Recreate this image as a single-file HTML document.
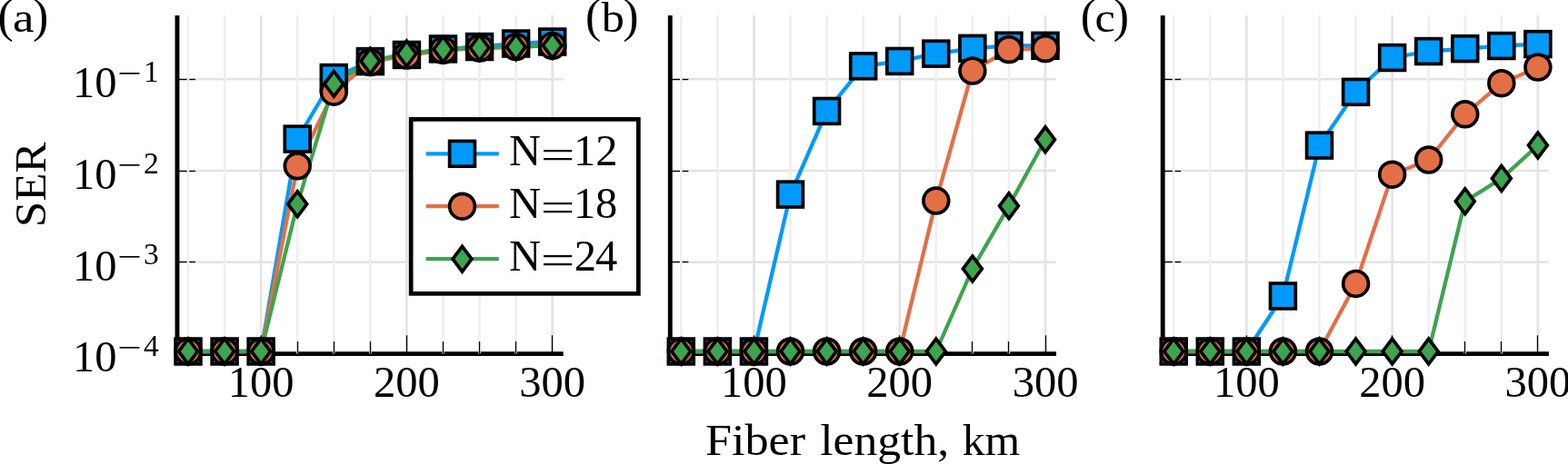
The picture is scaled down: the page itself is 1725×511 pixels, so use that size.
<!DOCTYPE html>
<html><head><meta charset="utf-8"><style>html,body{margin:0;padding:0;background:#fff;overflow:hidden}svg{display:block}</style></head>
<body>
<svg width="1725" height="511" viewBox="0 0 1725 511">
<rect width="1725" height="511" fill="#fff"/>
<line x1="287.14" y1="17.0" x2="287.14" y2="389.40" stroke="#e3e3e3" stroke-width="2.6"/>
<line x1="447.42" y1="17.0" x2="447.42" y2="389.40" stroke="#e3e3e3" stroke-width="2.6"/>
<line x1="607.70" y1="17.0" x2="607.70" y2="389.40" stroke="#e3e3e3" stroke-width="2.6"/>
<line x1="194.98" y1="87.30" x2="619.72" y2="87.30" stroke="#e3e3e3" stroke-width="2.6"/>
<line x1="194.98" y1="188.00" x2="619.72" y2="188.00" stroke="#e3e3e3" stroke-width="2.6"/>
<line x1="194.98" y1="288.70" x2="619.72" y2="288.70" stroke="#e3e3e3" stroke-width="2.6"/>
<line x1="194.98" y1="87.50" x2="214.98" y2="87.50" stroke="#000" stroke-width="1.3"/>
<line x1="194.98" y1="188.50" x2="214.98" y2="188.50" stroke="#000" stroke-width="1.3"/>
<line x1="194.98" y1="288.50" x2="214.98" y2="288.50" stroke="#000" stroke-width="1.3"/>
<line x1="194.98" y1="389.50" x2="214.98" y2="389.50" stroke="#000" stroke-width="1.3"/>
<line x1="194.98" y1="17.0" x2="194.98" y2="391.85" stroke="#000" stroke-width="4.9"/>
<line x1="192.53" y1="389.60" x2="619.72" y2="389.60" stroke="#000" stroke-width="4.9"/>
<line x1="207.00" y1="17.0" x2="207.00" y2="389.40" stroke="#efefef" stroke-width="2.6"/>
<line x1="247.07" y1="17.0" x2="247.07" y2="389.40" stroke="#efefef" stroke-width="2.6"/>
<line x1="327.21" y1="17.0" x2="327.21" y2="389.40" stroke="#efefef" stroke-width="2.6"/>
<line x1="367.28" y1="17.0" x2="367.28" y2="389.40" stroke="#efefef" stroke-width="2.6"/>
<line x1="407.35" y1="17.0" x2="407.35" y2="389.40" stroke="#efefef" stroke-width="2.6"/>
<line x1="487.49" y1="17.0" x2="487.49" y2="389.40" stroke="#efefef" stroke-width="2.6"/>
<line x1="527.56" y1="17.0" x2="527.56" y2="389.40" stroke="#efefef" stroke-width="2.6"/>
<line x1="567.63" y1="17.0" x2="567.63" y2="389.40" stroke="#efefef" stroke-width="2.6"/>
<line x1="207.50" y1="389.40" x2="207.50" y2="376.1" stroke="#000" stroke-width="1.3"/>
<line x1="247.50" y1="389.40" x2="247.50" y2="376.1" stroke="#000" stroke-width="1.3"/>
<line x1="287.50" y1="389.40" x2="287.50" y2="369.3" stroke="#000" stroke-width="1.3"/>
<line x1="327.50" y1="389.40" x2="327.50" y2="376.1" stroke="#000" stroke-width="1.3"/>
<line x1="367.50" y1="389.40" x2="367.50" y2="376.1" stroke="#000" stroke-width="1.3"/>
<line x1="407.50" y1="389.40" x2="407.50" y2="376.1" stroke="#000" stroke-width="1.3"/>
<line x1="447.50" y1="389.40" x2="447.50" y2="369.3" stroke="#000" stroke-width="1.3"/>
<line x1="487.50" y1="389.40" x2="487.50" y2="376.1" stroke="#000" stroke-width="1.3"/>
<line x1="527.50" y1="389.40" x2="527.50" y2="376.1" stroke="#000" stroke-width="1.3"/>
<line x1="567.50" y1="389.40" x2="567.50" y2="376.1" stroke="#000" stroke-width="1.3"/>
<line x1="607.50" y1="389.40" x2="607.50" y2="369.3" stroke="#000" stroke-width="1.3"/>
<polyline points="207.00,387.00 247.07,387.00 287.14,387.00 327.21,153.10 367.28,85.50 407.35,67.60 447.42,60.40 487.49,53.90 527.56,51.50 567.63,48.00 607.70,46.00" fill="none" stroke="#009AFA" stroke-width="4.3" stroke-linejoin="round"/>
<polyline points="207.00,387.00 247.07,387.00 287.14,387.00 327.21,182.80 367.28,101.20 407.35,68.50 447.42,61.00 487.49,55.30 527.56,53.00 567.63,51.50 607.70,50.40" fill="none" stroke="#E36F47" stroke-width="4.3" stroke-linejoin="round"/>
<polyline points="207.00,387.00 247.07,387.00 287.14,387.00 327.21,224.80 367.28,92.30 407.35,67.20 447.42,59.10 487.49,54.40 527.56,52.60 567.63,51.70 607.70,50.00" fill="none" stroke="#3EA44E" stroke-width="4.3" stroke-linejoin="round"/>
<rect x="193.10" y="373.10" width="27.80" height="27.80" fill="#009AFA" stroke="#000" stroke-width="3.7"/>
<rect x="233.17" y="373.10" width="27.80" height="27.80" fill="#009AFA" stroke="#000" stroke-width="3.7"/>
<rect x="273.24" y="373.10" width="27.80" height="27.80" fill="#009AFA" stroke="#000" stroke-width="3.7"/>
<rect x="313.31" y="139.20" width="27.80" height="27.80" fill="#009AFA" stroke="#000" stroke-width="3.7"/>
<rect x="353.38" y="71.60" width="27.80" height="27.80" fill="#009AFA" stroke="#000" stroke-width="3.7"/>
<rect x="393.45" y="53.70" width="27.80" height="27.80" fill="#009AFA" stroke="#000" stroke-width="3.7"/>
<rect x="433.52" y="46.50" width="27.80" height="27.80" fill="#009AFA" stroke="#000" stroke-width="3.7"/>
<rect x="473.59" y="40.00" width="27.80" height="27.80" fill="#009AFA" stroke="#000" stroke-width="3.7"/>
<rect x="513.66" y="37.60" width="27.80" height="27.80" fill="#009AFA" stroke="#000" stroke-width="3.7"/>
<rect x="553.73" y="34.10" width="27.80" height="27.80" fill="#009AFA" stroke="#000" stroke-width="3.7"/>
<rect x="593.80" y="32.10" width="27.80" height="27.80" fill="#009AFA" stroke="#000" stroke-width="3.7"/>
<circle cx="207.00" cy="387.00" r="13.90" fill="#E36F47" stroke="#000" stroke-width="3.7"/>
<circle cx="247.07" cy="387.00" r="13.90" fill="#E36F47" stroke="#000" stroke-width="3.7"/>
<circle cx="287.14" cy="387.00" r="13.90" fill="#E36F47" stroke="#000" stroke-width="3.7"/>
<circle cx="327.21" cy="182.80" r="13.90" fill="#E36F47" stroke="#000" stroke-width="3.7"/>
<circle cx="367.28" cy="101.20" r="13.90" fill="#E36F47" stroke="#000" stroke-width="3.7"/>
<circle cx="407.35" cy="68.50" r="13.90" fill="#E36F47" stroke="#000" stroke-width="3.7"/>
<circle cx="447.42" cy="61.00" r="13.90" fill="#E36F47" stroke="#000" stroke-width="3.7"/>
<circle cx="487.49" cy="55.30" r="13.90" fill="#E36F47" stroke="#000" stroke-width="3.7"/>
<circle cx="527.56" cy="53.00" r="13.90" fill="#E36F47" stroke="#000" stroke-width="3.7"/>
<circle cx="567.63" cy="51.50" r="13.90" fill="#E36F47" stroke="#000" stroke-width="3.7"/>
<circle cx="607.70" cy="50.40" r="13.90" fill="#E36F47" stroke="#000" stroke-width="3.7"/>
<path d="M207.00 373.10L217.40 387.00L207.00 400.90L196.60 387.00Z" fill="#3EA44E" stroke="#000" stroke-width="3.7" stroke-linejoin="miter" stroke-miterlimit="10"/>
<path d="M247.07 373.10L257.47 387.00L247.07 400.90L236.67 387.00Z" fill="#3EA44E" stroke="#000" stroke-width="3.7" stroke-linejoin="miter" stroke-miterlimit="10"/>
<path d="M287.14 373.10L297.54 387.00L287.14 400.90L276.74 387.00Z" fill="#3EA44E" stroke="#000" stroke-width="3.7" stroke-linejoin="miter" stroke-miterlimit="10"/>
<path d="M327.21 210.90L337.61 224.80L327.21 238.70L316.81 224.80Z" fill="#3EA44E" stroke="#000" stroke-width="3.7" stroke-linejoin="miter" stroke-miterlimit="10"/>
<path d="M367.28 78.40L377.68 92.30L367.28 106.20L356.88 92.30Z" fill="#3EA44E" stroke="#000" stroke-width="3.7" stroke-linejoin="miter" stroke-miterlimit="10"/>
<path d="M407.35 53.30L417.75 67.20L407.35 81.10L396.95 67.20Z" fill="#3EA44E" stroke="#000" stroke-width="3.7" stroke-linejoin="miter" stroke-miterlimit="10"/>
<path d="M447.42 45.20L457.82 59.10L447.42 73.00L437.02 59.10Z" fill="#3EA44E" stroke="#000" stroke-width="3.7" stroke-linejoin="miter" stroke-miterlimit="10"/>
<path d="M487.49 40.50L497.89 54.40L487.49 68.30L477.09 54.40Z" fill="#3EA44E" stroke="#000" stroke-width="3.7" stroke-linejoin="miter" stroke-miterlimit="10"/>
<path d="M527.56 38.70L537.96 52.60L527.56 66.50L517.16 52.60Z" fill="#3EA44E" stroke="#000" stroke-width="3.7" stroke-linejoin="miter" stroke-miterlimit="10"/>
<path d="M567.63 37.80L578.03 51.70L567.63 65.60L557.23 51.70Z" fill="#3EA44E" stroke="#000" stroke-width="3.7" stroke-linejoin="miter" stroke-miterlimit="10"/>
<path d="M607.70 36.10L618.10 50.00L607.70 63.90L597.30 50.00Z" fill="#3EA44E" stroke="#000" stroke-width="3.7" stroke-linejoin="miter" stroke-miterlimit="10"/>
<text x="287.14" y="437.4" font-size="48.5" text-anchor="middle" font-family="Liberation Serif, serif">100</text>
<text x="447.42" y="437.4" font-size="48.5" text-anchor="middle" font-family="Liberation Serif, serif">200</text>
<text x="607.70" y="437.4" font-size="48.5" text-anchor="middle" font-family="Liberation Serif, serif">300</text>
<line x1="829.44" y1="17.0" x2="829.44" y2="389.40" stroke="#e3e3e3" stroke-width="2.6"/>
<line x1="989.72" y1="17.0" x2="989.72" y2="389.40" stroke="#e3e3e3" stroke-width="2.6"/>
<line x1="1150.00" y1="17.0" x2="1150.00" y2="389.40" stroke="#e3e3e3" stroke-width="2.6"/>
<line x1="737.28" y1="87.30" x2="1162.02" y2="87.30" stroke="#e3e3e3" stroke-width="2.6"/>
<line x1="737.28" y1="188.00" x2="1162.02" y2="188.00" stroke="#e3e3e3" stroke-width="2.6"/>
<line x1="737.28" y1="288.70" x2="1162.02" y2="288.70" stroke="#e3e3e3" stroke-width="2.6"/>
<line x1="737.28" y1="87.50" x2="757.28" y2="87.50" stroke="#000" stroke-width="1.3"/>
<line x1="737.28" y1="188.50" x2="757.28" y2="188.50" stroke="#000" stroke-width="1.3"/>
<line x1="737.28" y1="288.50" x2="757.28" y2="288.50" stroke="#000" stroke-width="1.3"/>
<line x1="737.28" y1="389.50" x2="757.28" y2="389.50" stroke="#000" stroke-width="1.3"/>
<line x1="737.28" y1="17.0" x2="737.28" y2="391.85" stroke="#000" stroke-width="4.9"/>
<line x1="734.83" y1="389.60" x2="1162.02" y2="389.60" stroke="#000" stroke-width="4.9"/>
<line x1="749.30" y1="17.0" x2="749.30" y2="389.40" stroke="#efefef" stroke-width="2.6"/>
<line x1="789.37" y1="17.0" x2="789.37" y2="389.40" stroke="#efefef" stroke-width="2.6"/>
<line x1="869.51" y1="17.0" x2="869.51" y2="389.40" stroke="#efefef" stroke-width="2.6"/>
<line x1="909.58" y1="17.0" x2="909.58" y2="389.40" stroke="#efefef" stroke-width="2.6"/>
<line x1="949.65" y1="17.0" x2="949.65" y2="389.40" stroke="#efefef" stroke-width="2.6"/>
<line x1="1029.79" y1="17.0" x2="1029.79" y2="389.40" stroke="#efefef" stroke-width="2.6"/>
<line x1="1069.86" y1="17.0" x2="1069.86" y2="389.40" stroke="#efefef" stroke-width="2.6"/>
<line x1="1109.93" y1="17.0" x2="1109.93" y2="389.40" stroke="#efefef" stroke-width="2.6"/>
<line x1="749.50" y1="389.40" x2="749.50" y2="376.1" stroke="#000" stroke-width="1.3"/>
<line x1="789.50" y1="389.40" x2="789.50" y2="376.1" stroke="#000" stroke-width="1.3"/>
<line x1="829.50" y1="389.40" x2="829.50" y2="369.3" stroke="#000" stroke-width="1.3"/>
<line x1="869.50" y1="389.40" x2="869.50" y2="376.1" stroke="#000" stroke-width="1.3"/>
<line x1="909.50" y1="389.40" x2="909.50" y2="376.1" stroke="#000" stroke-width="1.3"/>
<line x1="949.50" y1="389.40" x2="949.50" y2="376.1" stroke="#000" stroke-width="1.3"/>
<line x1="989.50" y1="389.40" x2="989.50" y2="369.3" stroke="#000" stroke-width="1.3"/>
<line x1="1029.50" y1="389.40" x2="1029.50" y2="376.1" stroke="#000" stroke-width="1.3"/>
<line x1="1069.50" y1="389.40" x2="1069.50" y2="376.1" stroke="#000" stroke-width="1.3"/>
<line x1="1109.50" y1="389.40" x2="1109.50" y2="376.1" stroke="#000" stroke-width="1.3"/>
<line x1="1150.50" y1="389.40" x2="1150.50" y2="369.3" stroke="#000" stroke-width="1.3"/>
<polyline points="749.30,387.00 789.37,387.00 829.44,387.00 869.51,214.10 909.58,122.40 949.65,72.80 989.72,67.40 1029.79,59.10 1069.86,53.30 1109.93,50.20 1150.00,50.30" fill="none" stroke="#009AFA" stroke-width="4.3" stroke-linejoin="round"/>
<polyline points="749.30,387.00 789.37,387.00 829.44,387.00 869.51,387.00 909.58,387.00 949.65,387.00 989.72,387.00 1029.79,221.10 1069.86,78.10 1109.93,54.50 1150.00,53.50" fill="none" stroke="#E36F47" stroke-width="4.3" stroke-linejoin="round"/>
<polyline points="749.30,387.00 789.37,387.00 829.44,387.00 869.51,387.00 909.58,387.00 949.65,387.00 989.72,387.00 1029.79,387.00 1069.86,296.00 1109.93,226.80 1150.00,153.80" fill="none" stroke="#3EA44E" stroke-width="4.3" stroke-linejoin="round"/>
<rect x="735.40" y="373.10" width="27.80" height="27.80" fill="#009AFA" stroke="#000" stroke-width="3.7"/>
<rect x="775.47" y="373.10" width="27.80" height="27.80" fill="#009AFA" stroke="#000" stroke-width="3.7"/>
<rect x="815.54" y="373.10" width="27.80" height="27.80" fill="#009AFA" stroke="#000" stroke-width="3.7"/>
<rect x="855.61" y="200.20" width="27.80" height="27.80" fill="#009AFA" stroke="#000" stroke-width="3.7"/>
<rect x="895.68" y="108.50" width="27.80" height="27.80" fill="#009AFA" stroke="#000" stroke-width="3.7"/>
<rect x="935.75" y="58.90" width="27.80" height="27.80" fill="#009AFA" stroke="#000" stroke-width="3.7"/>
<rect x="975.82" y="53.50" width="27.80" height="27.80" fill="#009AFA" stroke="#000" stroke-width="3.7"/>
<rect x="1015.89" y="45.20" width="27.80" height="27.80" fill="#009AFA" stroke="#000" stroke-width="3.7"/>
<rect x="1055.96" y="39.40" width="27.80" height="27.80" fill="#009AFA" stroke="#000" stroke-width="3.7"/>
<rect x="1096.03" y="36.30" width="27.80" height="27.80" fill="#009AFA" stroke="#000" stroke-width="3.7"/>
<rect x="1136.10" y="36.40" width="27.80" height="27.80" fill="#009AFA" stroke="#000" stroke-width="3.7"/>
<circle cx="749.30" cy="387.00" r="13.90" fill="#E36F47" stroke="#000" stroke-width="3.7"/>
<circle cx="789.37" cy="387.00" r="13.90" fill="#E36F47" stroke="#000" stroke-width="3.7"/>
<circle cx="829.44" cy="387.00" r="13.90" fill="#E36F47" stroke="#000" stroke-width="3.7"/>
<circle cx="869.51" cy="387.00" r="13.90" fill="#E36F47" stroke="#000" stroke-width="3.7"/>
<circle cx="909.58" cy="387.00" r="13.90" fill="#E36F47" stroke="#000" stroke-width="3.7"/>
<circle cx="949.65" cy="387.00" r="13.90" fill="#E36F47" stroke="#000" stroke-width="3.7"/>
<circle cx="989.72" cy="387.00" r="13.90" fill="#E36F47" stroke="#000" stroke-width="3.7"/>
<circle cx="1029.79" cy="221.10" r="13.90" fill="#E36F47" stroke="#000" stroke-width="3.7"/>
<circle cx="1069.86" cy="78.10" r="13.90" fill="#E36F47" stroke="#000" stroke-width="3.7"/>
<circle cx="1109.93" cy="54.50" r="13.90" fill="#E36F47" stroke="#000" stroke-width="3.7"/>
<circle cx="1150.00" cy="53.50" r="13.90" fill="#E36F47" stroke="#000" stroke-width="3.7"/>
<path d="M749.30 373.10L759.70 387.00L749.30 400.90L738.90 387.00Z" fill="#3EA44E" stroke="#000" stroke-width="3.7" stroke-linejoin="miter" stroke-miterlimit="10"/>
<path d="M789.37 373.10L799.77 387.00L789.37 400.90L778.97 387.00Z" fill="#3EA44E" stroke="#000" stroke-width="3.7" stroke-linejoin="miter" stroke-miterlimit="10"/>
<path d="M829.44 373.10L839.84 387.00L829.44 400.90L819.04 387.00Z" fill="#3EA44E" stroke="#000" stroke-width="3.7" stroke-linejoin="miter" stroke-miterlimit="10"/>
<path d="M869.51 373.10L879.91 387.00L869.51 400.90L859.11 387.00Z" fill="#3EA44E" stroke="#000" stroke-width="3.7" stroke-linejoin="miter" stroke-miterlimit="10"/>
<path d="M909.58 373.10L919.98 387.00L909.58 400.90L899.18 387.00Z" fill="#3EA44E" stroke="#000" stroke-width="3.7" stroke-linejoin="miter" stroke-miterlimit="10"/>
<path d="M949.65 373.10L960.05 387.00L949.65 400.90L939.25 387.00Z" fill="#3EA44E" stroke="#000" stroke-width="3.7" stroke-linejoin="miter" stroke-miterlimit="10"/>
<path d="M989.72 373.10L1000.12 387.00L989.72 400.90L979.32 387.00Z" fill="#3EA44E" stroke="#000" stroke-width="3.7" stroke-linejoin="miter" stroke-miterlimit="10"/>
<path d="M1029.79 373.10L1040.19 387.00L1029.79 400.90L1019.39 387.00Z" fill="#3EA44E" stroke="#000" stroke-width="3.7" stroke-linejoin="miter" stroke-miterlimit="10"/>
<path d="M1069.86 282.10L1080.26 296.00L1069.86 309.90L1059.46 296.00Z" fill="#3EA44E" stroke="#000" stroke-width="3.7" stroke-linejoin="miter" stroke-miterlimit="10"/>
<path d="M1109.93 212.90L1120.33 226.80L1109.93 240.70L1099.53 226.80Z" fill="#3EA44E" stroke="#000" stroke-width="3.7" stroke-linejoin="miter" stroke-miterlimit="10"/>
<path d="M1150.00 139.90L1160.40 153.80L1150.00 167.70L1139.60 153.80Z" fill="#3EA44E" stroke="#000" stroke-width="3.7" stroke-linejoin="miter" stroke-miterlimit="10"/>
<text x="829.44" y="437.4" font-size="48.5" text-anchor="middle" font-family="Liberation Serif, serif">100</text>
<text x="989.72" y="437.4" font-size="48.5" text-anchor="middle" font-family="Liberation Serif, serif">200</text>
<text x="1150.00" y="437.4" font-size="48.5" text-anchor="middle" font-family="Liberation Serif, serif">300</text>
<line x1="1371.34" y1="17.0" x2="1371.34" y2="389.40" stroke="#e3e3e3" stroke-width="2.6"/>
<line x1="1531.62" y1="17.0" x2="1531.62" y2="389.40" stroke="#e3e3e3" stroke-width="2.6"/>
<line x1="1691.90" y1="17.0" x2="1691.90" y2="389.40" stroke="#e3e3e3" stroke-width="2.6"/>
<line x1="1279.18" y1="87.30" x2="1703.92" y2="87.30" stroke="#e3e3e3" stroke-width="2.6"/>
<line x1="1279.18" y1="188.00" x2="1703.92" y2="188.00" stroke="#e3e3e3" stroke-width="2.6"/>
<line x1="1279.18" y1="288.70" x2="1703.92" y2="288.70" stroke="#e3e3e3" stroke-width="2.6"/>
<line x1="1279.18" y1="87.50" x2="1299.18" y2="87.50" stroke="#000" stroke-width="1.3"/>
<line x1="1279.18" y1="188.50" x2="1299.18" y2="188.50" stroke="#000" stroke-width="1.3"/>
<line x1="1279.18" y1="288.50" x2="1299.18" y2="288.50" stroke="#000" stroke-width="1.3"/>
<line x1="1279.18" y1="389.50" x2="1299.18" y2="389.50" stroke="#000" stroke-width="1.3"/>
<line x1="1279.18" y1="17.0" x2="1279.18" y2="391.85" stroke="#000" stroke-width="4.9"/>
<line x1="1276.73" y1="389.60" x2="1703.92" y2="389.60" stroke="#000" stroke-width="4.9"/>
<line x1="1291.20" y1="17.0" x2="1291.20" y2="389.40" stroke="#efefef" stroke-width="2.6"/>
<line x1="1331.27" y1="17.0" x2="1331.27" y2="389.40" stroke="#efefef" stroke-width="2.6"/>
<line x1="1411.41" y1="17.0" x2="1411.41" y2="389.40" stroke="#efefef" stroke-width="2.6"/>
<line x1="1451.48" y1="17.0" x2="1451.48" y2="389.40" stroke="#efefef" stroke-width="2.6"/>
<line x1="1491.55" y1="17.0" x2="1491.55" y2="389.40" stroke="#efefef" stroke-width="2.6"/>
<line x1="1571.69" y1="17.0" x2="1571.69" y2="389.40" stroke="#efefef" stroke-width="2.6"/>
<line x1="1611.76" y1="17.0" x2="1611.76" y2="389.40" stroke="#efefef" stroke-width="2.6"/>
<line x1="1651.83" y1="17.0" x2="1651.83" y2="389.40" stroke="#efefef" stroke-width="2.6"/>
<line x1="1291.50" y1="389.40" x2="1291.50" y2="376.1" stroke="#000" stroke-width="1.3"/>
<line x1="1331.50" y1="389.40" x2="1331.50" y2="376.1" stroke="#000" stroke-width="1.3"/>
<line x1="1371.50" y1="389.40" x2="1371.50" y2="369.3" stroke="#000" stroke-width="1.3"/>
<line x1="1411.50" y1="389.40" x2="1411.50" y2="376.1" stroke="#000" stroke-width="1.3"/>
<line x1="1451.50" y1="389.40" x2="1451.50" y2="376.1" stroke="#000" stroke-width="1.3"/>
<line x1="1491.50" y1="389.40" x2="1491.50" y2="376.1" stroke="#000" stroke-width="1.3"/>
<line x1="1531.50" y1="389.40" x2="1531.50" y2="369.3" stroke="#000" stroke-width="1.3"/>
<line x1="1571.50" y1="389.40" x2="1571.50" y2="376.1" stroke="#000" stroke-width="1.3"/>
<line x1="1611.50" y1="389.40" x2="1611.50" y2="376.1" stroke="#000" stroke-width="1.3"/>
<line x1="1651.50" y1="389.40" x2="1651.50" y2="376.1" stroke="#000" stroke-width="1.3"/>
<line x1="1691.50" y1="389.40" x2="1691.50" y2="369.3" stroke="#000" stroke-width="1.3"/>
<polyline points="1291.20,387.00 1331.27,387.00 1371.34,387.00 1411.41,326.00 1451.48,160.10 1491.55,101.30 1531.62,63.50 1571.69,56.50 1611.76,53.60 1651.83,50.50 1691.90,48.60" fill="none" stroke="#009AFA" stroke-width="4.3" stroke-linejoin="round"/>
<polyline points="1291.20,387.00 1331.27,387.00 1371.34,387.00 1411.41,387.00 1451.48,387.00 1491.55,312.40 1531.62,192.20 1571.69,176.00 1611.76,125.80 1651.83,91.70 1691.90,74.10" fill="none" stroke="#E36F47" stroke-width="4.3" stroke-linejoin="round"/>
<polyline points="1291.20,387.00 1331.27,387.00 1371.34,387.00 1411.41,387.00 1451.48,387.00 1491.55,387.00 1531.62,387.00 1571.69,387.00 1611.76,221.70 1651.83,196.60 1691.90,160.00" fill="none" stroke="#3EA44E" stroke-width="4.3" stroke-linejoin="round"/>
<rect x="1277.30" y="373.10" width="27.80" height="27.80" fill="#009AFA" stroke="#000" stroke-width="3.7"/>
<rect x="1317.37" y="373.10" width="27.80" height="27.80" fill="#009AFA" stroke="#000" stroke-width="3.7"/>
<rect x="1357.44" y="373.10" width="27.80" height="27.80" fill="#009AFA" stroke="#000" stroke-width="3.7"/>
<rect x="1397.51" y="312.10" width="27.80" height="27.80" fill="#009AFA" stroke="#000" stroke-width="3.7"/>
<rect x="1437.58" y="146.20" width="27.80" height="27.80" fill="#009AFA" stroke="#000" stroke-width="3.7"/>
<rect x="1477.65" y="87.40" width="27.80" height="27.80" fill="#009AFA" stroke="#000" stroke-width="3.7"/>
<rect x="1517.72" y="49.60" width="27.80" height="27.80" fill="#009AFA" stroke="#000" stroke-width="3.7"/>
<rect x="1557.79" y="42.60" width="27.80" height="27.80" fill="#009AFA" stroke="#000" stroke-width="3.7"/>
<rect x="1597.86" y="39.70" width="27.80" height="27.80" fill="#009AFA" stroke="#000" stroke-width="3.7"/>
<rect x="1637.93" y="36.60" width="27.80" height="27.80" fill="#009AFA" stroke="#000" stroke-width="3.7"/>
<rect x="1678.00" y="34.70" width="27.80" height="27.80" fill="#009AFA" stroke="#000" stroke-width="3.7"/>
<circle cx="1291.20" cy="387.00" r="13.90" fill="#E36F47" stroke="#000" stroke-width="3.7"/>
<circle cx="1331.27" cy="387.00" r="13.90" fill="#E36F47" stroke="#000" stroke-width="3.7"/>
<circle cx="1371.34" cy="387.00" r="13.90" fill="#E36F47" stroke="#000" stroke-width="3.7"/>
<circle cx="1411.41" cy="387.00" r="13.90" fill="#E36F47" stroke="#000" stroke-width="3.7"/>
<circle cx="1451.48" cy="387.00" r="13.90" fill="#E36F47" stroke="#000" stroke-width="3.7"/>
<circle cx="1491.55" cy="312.40" r="13.90" fill="#E36F47" stroke="#000" stroke-width="3.7"/>
<circle cx="1531.62" cy="192.20" r="13.90" fill="#E36F47" stroke="#000" stroke-width="3.7"/>
<circle cx="1571.69" cy="176.00" r="13.90" fill="#E36F47" stroke="#000" stroke-width="3.7"/>
<circle cx="1611.76" cy="125.80" r="13.90" fill="#E36F47" stroke="#000" stroke-width="3.7"/>
<circle cx="1651.83" cy="91.70" r="13.90" fill="#E36F47" stroke="#000" stroke-width="3.7"/>
<circle cx="1691.90" cy="74.10" r="13.90" fill="#E36F47" stroke="#000" stroke-width="3.7"/>
<path d="M1291.20 373.10L1301.60 387.00L1291.20 400.90L1280.80 387.00Z" fill="#3EA44E" stroke="#000" stroke-width="3.7" stroke-linejoin="miter" stroke-miterlimit="10"/>
<path d="M1331.27 373.10L1341.67 387.00L1331.27 400.90L1320.87 387.00Z" fill="#3EA44E" stroke="#000" stroke-width="3.7" stroke-linejoin="miter" stroke-miterlimit="10"/>
<path d="M1371.34 373.10L1381.74 387.00L1371.34 400.90L1360.94 387.00Z" fill="#3EA44E" stroke="#000" stroke-width="3.7" stroke-linejoin="miter" stroke-miterlimit="10"/>
<path d="M1411.41 373.10L1421.81 387.00L1411.41 400.90L1401.01 387.00Z" fill="#3EA44E" stroke="#000" stroke-width="3.7" stroke-linejoin="miter" stroke-miterlimit="10"/>
<path d="M1451.48 373.10L1461.88 387.00L1451.48 400.90L1441.08 387.00Z" fill="#3EA44E" stroke="#000" stroke-width="3.7" stroke-linejoin="miter" stroke-miterlimit="10"/>
<path d="M1491.55 373.10L1501.95 387.00L1491.55 400.90L1481.15 387.00Z" fill="#3EA44E" stroke="#000" stroke-width="3.7" stroke-linejoin="miter" stroke-miterlimit="10"/>
<path d="M1531.62 373.10L1542.02 387.00L1531.62 400.90L1521.22 387.00Z" fill="#3EA44E" stroke="#000" stroke-width="3.7" stroke-linejoin="miter" stroke-miterlimit="10"/>
<path d="M1571.69 373.10L1582.09 387.00L1571.69 400.90L1561.29 387.00Z" fill="#3EA44E" stroke="#000" stroke-width="3.7" stroke-linejoin="miter" stroke-miterlimit="10"/>
<path d="M1611.76 207.80L1622.16 221.70L1611.76 235.60L1601.36 221.70Z" fill="#3EA44E" stroke="#000" stroke-width="3.7" stroke-linejoin="miter" stroke-miterlimit="10"/>
<path d="M1651.83 182.70L1662.23 196.60L1651.83 210.50L1641.43 196.60Z" fill="#3EA44E" stroke="#000" stroke-width="3.7" stroke-linejoin="miter" stroke-miterlimit="10"/>
<path d="M1691.90 146.10L1702.30 160.00L1691.90 173.90L1681.50 160.00Z" fill="#3EA44E" stroke="#000" stroke-width="3.7" stroke-linejoin="miter" stroke-miterlimit="10"/>
<text x="1371.34" y="437.4" font-size="48.5" text-anchor="middle" font-family="Liberation Serif, serif">100</text>
<text x="1531.62" y="437.4" font-size="48.5" text-anchor="middle" font-family="Liberation Serif, serif">200</text>
<text x="1691.90" y="437.4" font-size="48.5" text-anchor="middle" font-family="Liberation Serif, serif">300</text>
<text x="80.1" y="107.10" font-size="48.5" font-family="Liberation Serif, serif">10</text>
<text x="129.54" y="92.35" font-size="33.6" textLength="26.6" lengthAdjust="spacingAndGlyphs" font-family="Liberation Serif, serif">&#8722;</text>
<text x="166.5" y="89.90" font-size="33.6" text-anchor="middle" font-family="Liberation Serif, serif">1</text>
<text x="80.1" y="207.80" font-size="48.5" font-family="Liberation Serif, serif">10</text>
<text x="129.54" y="193.05" font-size="33.6" textLength="26.6" lengthAdjust="spacingAndGlyphs" font-family="Liberation Serif, serif">&#8722;</text>
<text x="166.5" y="190.60" font-size="33.6" text-anchor="middle" font-family="Liberation Serif, serif">2</text>
<text x="80.1" y="308.50" font-size="48.5" font-family="Liberation Serif, serif">10</text>
<text x="129.54" y="293.75" font-size="33.6" textLength="26.6" lengthAdjust="spacingAndGlyphs" font-family="Liberation Serif, serif">&#8722;</text>
<text x="166.5" y="291.30" font-size="33.6" text-anchor="middle" font-family="Liberation Serif, serif">3</text>
<text x="80.1" y="409.20" font-size="48.5" font-family="Liberation Serif, serif">10</text>
<text x="129.54" y="394.45" font-size="33.6" textLength="26.6" lengthAdjust="spacingAndGlyphs" font-family="Liberation Serif, serif">&#8722;</text>
<text x="166.5" y="392.00" font-size="33.6" text-anchor="middle" font-family="Liberation Serif, serif">4</text>
<text x="-2.49" y="35.0" font-size="52" font-family="Liberation Serif, serif">(</text>
<text x="13.90" y="35.0" font-size="46" textLength="23.48" lengthAdjust="spacingAndGlyphs" font-family="Liberation Serif, serif">a</text>
<text x="36.07" y="35.0" font-size="52" font-family="Liberation Serif, serif">)</text>
<text x="644.11" y="35.0" font-size="52" font-family="Liberation Serif, serif">(</text>
<text x="661.87" y="35.0" font-size="46" textLength="25.07" lengthAdjust="spacingAndGlyphs" font-family="Liberation Serif, serif">b</text>
<text x="685.37" y="35.0" font-size="52" font-family="Liberation Serif, serif">)</text>
<text x="1188.81" y="35.0" font-size="52" font-family="Liberation Serif, serif">(</text>
<text x="1204.49" y="35.0" font-size="46" textLength="22.25" lengthAdjust="spacingAndGlyphs" font-family="Liberation Serif, serif">c</text>
<text x="1224.77" y="35.0" font-size="52" font-family="Liberation Serif, serif">)</text>
<text transform="translate(49.6,203.3) rotate(-90)" font-size="49" text-anchor="middle" textLength="93.91" lengthAdjust="spacingAndGlyphs" font-family="Liberation Serif, serif">SER</text>
<text y="501.4" font-size="49" font-family="Liberation Serif, serif"><tspan x="776.09" textLength="109.97" lengthAdjust="spacingAndGlyphs">Fiber</tspan> <tspan x="902.17" textLength="141.96" lengthAdjust="spacingAndGlyphs">length,</tspan> <tspan x="1058.66" textLength="63.43" lengthAdjust="spacingAndGlyphs">km</tspan></text>
<rect x="452.15" y="131.35" width="250.2" height="192.0" fill="#fff" stroke="#000" stroke-width="4.7"/>
<line x1="468.6" y1="169.3" x2="548.8" y2="169.3" stroke="#009AFA" stroke-width="4.3"/>
<rect x="494.60" y="155.40" width="27.80" height="27.80" fill="#009AFA" stroke="#000" stroke-width="3.7"/>
<text y="182.0" font-size="48.5" font-family="Liberation Serif, serif"><tspan x="559.95">N</tspan><tspan x="594.81" dy="2.7" font-size="44" textLength="37.72" lengthAdjust="spacingAndGlyphs">=</tspan><tspan x="631.10" dy="-2.7">1</tspan><tspan x="655.24">2</tspan></text>
<line x1="468.6" y1="227.2" x2="548.8" y2="227.2" stroke="#E36F47" stroke-width="4.3"/>
<circle cx="508.50" cy="227.20" r="13.90" fill="#E36F47" stroke="#000" stroke-width="3.7"/>
<text y="240.0" font-size="48.5" font-family="Liberation Serif, serif"><tspan x="559.95">N</tspan><tspan x="594.81" dy="2.7" font-size="44" textLength="37.72" lengthAdjust="spacingAndGlyphs">=</tspan><tspan x="631.10" dy="-2.7">1</tspan><tspan x="654.98">8</tspan></text>
<line x1="468.6" y1="285.2" x2="548.8" y2="285.2" stroke="#3EA44E" stroke-width="4.3"/>
<path d="M508.50 271.30L518.90 285.20L508.50 299.10L498.10 285.20Z" fill="#3EA44E" stroke="#000" stroke-width="3.7" stroke-linejoin="miter" stroke-miterlimit="10"/>
<text y="297.9" font-size="48.5" font-family="Liberation Serif, serif"><tspan x="559.95">N</tspan><tspan x="594.81" dy="2.7" font-size="44" textLength="37.72" lengthAdjust="spacingAndGlyphs">=</tspan><tspan x="631.64" dy="-2.7">2</tspan><tspan x="654.88">4</tspan></text>
</svg>
</body></html>
